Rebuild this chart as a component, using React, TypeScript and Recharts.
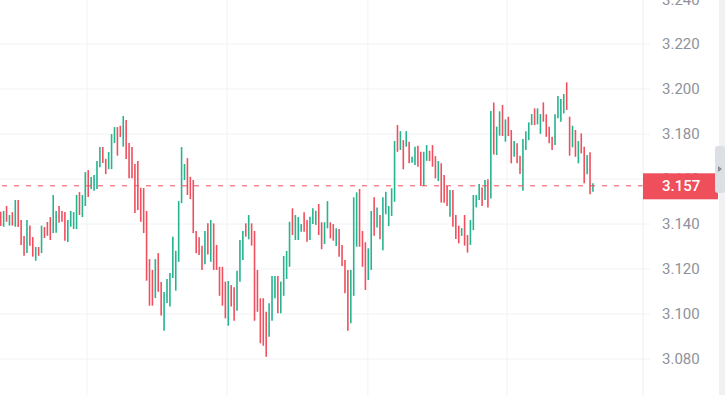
import React from 'react';
import { BarChart, Bar, XAxis, YAxis, CartesianGrid, ReferenceLine } from 'recharts';

// one bar per slot, oldest first (prices)
const highs = [
  3.1455, 3.1458, 3.1480, 3.1440, 3.1453, 3.1507, 3.1507, 3.1418, 3.1347, 3.1418,
  3.1393, 3.1342, 3.1298, 3.1298, 3.1393, 3.1387, 3.1409, 3.1431, 3.1529, 3.1458,
  3.1480, 3.1458, 3.1453, 3.1418, 3.1458, 3.1453, 3.1529, 3.1542, 3.1529, 3.1631,
  3.1640, 3.1609, 3.1618, 3.1680, 3.1742, 3.1742, 3.1690, 3.1720, 3.1800, 3.1831,
  3.1831, 3.1837, 3.1880, 3.1862, 3.1760, 3.1742, 3.1667, 3.1680, 3.1561, 3.1560,
  3.1458, 3.1244, 3.1196, 3.1244, 3.1271, 3.1142, 3.1098, 3.1156, 3.1182, 3.1344,
  3.1281, 3.1502, 3.1742, 3.1667, 3.1693, 3.1610, 3.1596, 3.1369, 3.1341, 3.1304,
  3.1369, 3.1403, 3.1418, 3.1403, 3.1307, 3.1210, 3.1210, 3.1144, 3.1147, 3.1129,
  3.1119, 3.1192, 3.1329, 3.1369, 3.1403, 3.1440, 3.1403, 3.1369, 3.1196, 3.1070,
  3.1070, 3.1010, 3.1048, 3.1169, 3.1169, 3.1169, 3.1144, 3.1258, 3.1280, 3.1410,
  3.1470, 3.1440, 3.1431, 3.1400, 3.1452, 3.1418, 3.1432, 3.1470, 3.1459, 3.1489,
  3.1408, 3.1408, 3.1502, 3.1408, 3.1400, 3.1381, 3.1378, 3.1307, 3.1240, 3.1196,
  3.1196, 3.1519, 3.1541, 3.1556, 3.1369, 3.1319, 3.1292, 3.1458, 3.1519, 3.1474,
  3.1440, 3.1519, 3.1544, 3.1480, 3.1559, 3.1769, 3.1840, 3.1813, 3.1773, 3.1813,
  3.1766, 3.1699, 3.1744, 3.1748, 3.1721, 3.1721, 3.1751, 3.1726, 3.1751, 3.1702,
  3.1680, 3.1670, 3.1618, 3.1569, 3.1551, 3.1551, 3.1440, 3.1393, 3.1382, 3.1440,
  3.1351, 3.1418, 3.1529, 3.1529, 3.1578, 3.1563, 3.1596, 3.1599, 3.1903, 3.1940,
  3.1833, 3.1901, 3.1929, 3.1865, 3.1877, 3.1818, 3.1769, 3.1759, 3.1704, 3.1778,
  3.1813, 3.1852, 3.1889, 3.1914, 3.1914, 3.1889, 3.1941, 3.1888, 3.1833, 3.1788,
  3.1888, 3.1969, 3.1956, 3.1978, 3.2030, 3.1877, 3.1837, 3.1818, 3.1769, 3.1803,
  3.1744, 3.1707, 3.1719, 3.1581,
];

const lows = [
  3.1391, 3.1388, 3.1410, 3.1393, 3.1393, 3.1388, 3.1387, 3.1307, 3.1259, 3.1271,
  3.1304, 3.1255, 3.1237, 3.1259, 3.1271, 3.1338, 3.1348, 3.1329, 3.1360, 3.1361,
  3.1406, 3.1410, 3.1326, 3.1320, 3.1388, 3.1378, 3.1378, 3.1440, 3.1431, 3.1480,
  3.1520, 3.1556, 3.1548, 3.1556, 3.1653, 3.1671, 3.1622, 3.1644, 3.1644, 3.1760,
  3.1704, 3.1787, 3.1744, 3.1689, 3.1604, 3.1604, 3.1449, 3.1462, 3.1410, 3.1360,
  3.1148, 3.1037, 3.1037, 3.1071, 3.1099, 3.0993, 3.0926, 3.1049, 3.1033, 3.1160,
  3.1104, 3.1232, 3.1493, 3.1596, 3.1529, 3.1511, 3.1360, 3.1270, 3.1262, 3.1196,
  3.1221, 3.1265, 3.1232, 3.1196, 3.1196, 3.1081, 3.1037, 3.0981, 3.0948, 3.1033,
  3.0970, 3.1015, 3.1144, 3.1240, 3.1344, 3.1332, 3.1304, 3.0970, 3.1010, 3.0870,
  3.0859, 3.0810, 3.0899, 3.0970, 3.1070, 3.1003, 3.1003, 3.1081, 3.1156, 3.1210,
  3.1351, 3.1329, 3.1329, 3.1366, 3.1366, 3.1321, 3.1329, 3.1400, 3.1396, 3.1351,
  3.1288, 3.1311, 3.1381, 3.1336, 3.1326, 3.1302, 3.1255, 3.1213, 3.1092, 3.0926,
  3.0959, 3.1081, 3.1299, 3.1299, 3.1210, 3.1107, 3.1151, 3.1196, 3.1348, 3.1385,
  3.1332, 3.1284, 3.1444, 3.1391, 3.1436, 3.1499, 3.1721, 3.1729, 3.1643, 3.1744,
  3.1670, 3.1673, 3.1662, 3.1655, 3.1569, 3.1569, 3.1681, 3.1680, 3.1655, 3.1603,
  3.1591, 3.1495, 3.1495, 3.1480, 3.1432, 3.1388, 3.1333, 3.1314, 3.1347, 3.1304,
  3.1273, 3.1307, 3.1373, 3.1474, 3.1507, 3.1480, 3.1507, 3.1474, 3.1514, 3.1709,
  3.1707, 3.1793, 3.1791, 3.1766, 3.1791, 3.1670, 3.1699, 3.1670, 3.1622, 3.1548,
  3.1729, 3.1773, 3.1840, 3.1840, 3.1843, 3.1801, 3.1855, 3.1788, 3.1759, 3.1729,
  3.1751, 3.1870, 3.1855, 3.1892, 3.1907, 3.1704, 3.1741, 3.1699, 3.1670, 3.1714,
  3.1581, 3.1621, 3.1532, 3.1544,
];

const opens = [
  3.144, 3.140, 3.147, 3.140, 3.144, 3.140, 3.149, 3.141, 3.133, 3.128,
  3.138, 3.133, 3.125, 3.129, 3.128, 3.138, 3.140, 3.142, 3.137, 3.138,
  3.147, 3.145, 3.144, 3.133, 3.140, 3.139, 3.139, 3.153, 3.144, 3.150,
  3.162, 3.156, 3.156, 3.157, 3.167, 3.173, 3.168, 3.165, 3.166, 3.177,
  3.182, 3.183, 3.176, 3.185, 3.174, 3.173, 3.164, 3.166, 3.155, 3.154,
  3.144, 3.123, 3.118, 3.108, 3.125, 3.113, 3.094, 3.106, 3.105, 3.118,
  3.112, 3.126, 3.151, 3.161, 3.168, 3.160, 3.158, 3.136, 3.133, 3.129,
  3.123, 3.139, 3.125, 3.139, 3.129, 3.120, 3.119, 3.113, 3.097, 3.112,
  3.110, 3.103, 3.116, 3.126, 3.139, 3.135, 3.139, 3.135, 3.118, 3.105,
  3.105, 3.099, 3.091, 3.099, 3.108, 3.115, 3.102, 3.110, 3.117, 3.123,
  3.146, 3.135, 3.135, 3.137, 3.144, 3.140, 3.134, 3.141, 3.141, 3.148,
  3.139, 3.132, 3.140, 3.140, 3.139, 3.131, 3.136, 3.129, 3.122, 3.117,
  3.098, 3.112, 3.132, 3.153, 3.135, 3.130, 3.117, 3.122, 3.150, 3.140,
  3.143, 3.131, 3.146, 3.140, 3.145, 3.152, 3.182, 3.174, 3.176, 3.175,
  3.176, 3.168, 3.167, 3.174, 3.171, 3.158, 3.169, 3.172, 3.174, 3.169,
  3.160, 3.166, 3.161, 3.156, 3.144, 3.154, 3.143, 3.138, 3.135, 3.143,
  3.134, 3.132, 3.139, 3.148, 3.151, 3.156, 3.151, 3.159, 3.153, 3.192,
  3.172, 3.181, 3.191, 3.178, 3.186, 3.180, 3.171, 3.175, 3.169, 3.157,
  3.174, 3.179, 3.184, 3.190, 3.185, 3.181, 3.193, 3.188, 3.182, 3.178,
  3.176, 3.188, 3.187, 3.190, 3.201, 3.187, 3.175, 3.181, 3.168, 3.179,
  3.173, 3.163, 3.170, 3.155,
];

const closes = [
  3.141, 3.144, 3.142, 3.143, 3.140, 3.149, 3.141, 3.133, 3.127, 3.140,
  3.132, 3.127, 3.129, 3.127, 3.138, 3.135, 3.136, 3.134, 3.150, 3.145,
  3.142, 3.142, 3.134, 3.140, 3.145, 3.144, 3.151, 3.145, 3.151, 3.161,
  3.154, 3.160, 3.161, 3.166, 3.173, 3.168, 3.163, 3.171, 3.178, 3.182,
  3.172, 3.180, 3.186, 3.171, 3.162, 3.162, 3.147, 3.148, 3.142, 3.138,
  3.117, 3.106, 3.105, 3.122, 3.112, 3.101, 3.108, 3.114, 3.116, 3.132,
  3.126, 3.148, 3.172, 3.165, 3.155, 3.153, 3.138, 3.128, 3.127, 3.121,
  3.135, 3.128, 3.140, 3.121, 3.121, 3.110, 3.105, 3.100, 3.112, 3.105,
  3.099, 3.117, 3.131, 3.135, 3.136, 3.142, 3.132, 3.100, 3.103, 3.089,
  3.088, 3.083, 3.103, 3.115, 3.115, 3.102, 3.113, 3.124, 3.126, 3.139,
  3.137, 3.142, 3.141, 3.139, 3.138, 3.134, 3.142, 3.146, 3.145, 3.137,
  3.131, 3.139, 3.149, 3.135, 3.134, 3.137, 3.128, 3.123, 3.111, 3.095,
  3.117, 3.149, 3.151, 3.132, 3.123, 3.113, 3.127, 3.143, 3.137, 3.146,
  3.135, 3.149, 3.153, 3.146, 3.154, 3.174, 3.174, 3.180, 3.166, 3.180,
  3.168, 3.169, 3.173, 3.167, 3.158, 3.170, 3.174, 3.169, 3.167, 3.162,
  3.166, 3.151, 3.151, 3.149, 3.154, 3.140, 3.135, 3.133, 3.137, 3.132,
  3.129, 3.140, 3.151, 3.152, 3.156, 3.150, 3.158, 3.149, 3.185, 3.173,
  3.181, 3.188, 3.181, 3.185, 3.181, 3.169, 3.176, 3.168, 3.164, 3.175,
  3.180, 3.184, 3.188, 3.185, 3.190, 3.187, 3.187, 3.180, 3.177, 3.174,
  3.187, 3.196, 3.194, 3.197, 3.192, 3.172, 3.182, 3.171, 3.176, 3.173,
  3.160, 3.169, 3.155, 3.157,
];

const priceTicks = [3.08, 3.1, 3.12, 3.14, 3.16, 3.18, 3.2, 3.22, 3.24];
const lastPrice = 3.157;
// vertical time grid lines, in bar-slot units
const timeGrid = [29.4, 77.4, 125.7, 173.4];
const slotDomain = [-0.4, 220];
const priceDomain = [3.064, 3.2396];

const UP = '#26b48e';
const DOWN = '#f04f5e';
const GRID = '#f1f2f5';
const LABEL_RED = '#ef4f5b';

const data = highs.map((h, i) => ({
  i,
  range: [lows[i], h],
  open: opens[i],
  close: closes[i],
}));

const OhlcShape = (props: any) => {
  const { x, y, width, height, payload } = props;
  if (x == null || y == null) return null;
  const top = Math.min(y, y + height);
  const bottom = Math.max(y, y + height);
  const cx = x + width / 2;
  const color = payload.close >= payload.open ? UP : DOWN;
  return <line x1={cx} x2={cx} y1={top} y2={bottom} stroke={color} strokeWidth={1.6} />;
};

const PriceTick = (props: any) => {
  const { x, y, payload } = props;
  if (payload.value === lastPrice) {
    return (
      <g>
        <rect x={x - 19} y={y - 12.5} width={75} height={26} fill={LABEL_RED} />
        <text x={x} y={y} dy="0.36em" textAnchor="start" fill="#fff" fontSize={15} fontWeight={500}>
          {lastPrice.toFixed(3)}
        </text>
      </g>
    );
  }
  return (
    <text x={x} y={y} dy="0.36em" textAnchor="start" fill="#8e929c" fontSize={15}>
      {Number(payload.value).toFixed(3)}
    </text>
  );
};

export default function App() {
  return (
    <div
      style={{
        position: 'absolute',
        left: 0,
        top: 0,
        width: 727,
        height: 395,
        background: '#fff',
        overflow: 'hidden',
        fontFamily: 'Roboto, "Noto Sans", sans-serif',
      }}
    >
      <BarChart width={727} height={395} data={data} margin={{ top: 0, right: 0, bottom: 0, left: 0 }}>
        <CartesianGrid stroke={GRID} horizontalValues={priceTicks} verticalValues={timeGrid} />
        <XAxis type="number" dataKey="i" domain={slotDomain} allowDataOverflow hide />
        <YAxis
          orientation="right"
          type="number"
          domain={priceDomain}
          allowDataOverflow
          ticks={[...priceTicks, lastPrice]}
          interval={0}
          width={84}
          tickSize={7}
          tickMargin={12}
          tickLine={{ stroke: GRID }}
          axisLine={{ stroke: '#eceef2' }}
          tick={<PriceTick />}
        />
        <Bar dataKey="range" barSize={2} shape={<OhlcShape />} isAnimationActive={false} />
        <ReferenceLine y={lastPrice} stroke={LABEL_RED} strokeDasharray="5 7" strokeWidth={1} />
      </BarChart>
      {/* scrollbar strip and collapse handle on the right edge */}
      <div style={{ position: 'absolute', left: 719, top: 0, width: 6, height: 395, background: '#f0f1f3' }} />
      <div
        style={{
          position: 'absolute',
          left: 715,
          top: 146,
          width: 10,
          height: 47,
          background: '#dcdfe4',
          borderRadius: 3,
        }}
      >
        <div
          style={{
            position: 'absolute',
            left: 3,
            top: 20,
            width: 0,
            height: 0,
            borderTop: '3.5px solid transparent',
            borderBottom: '3.5px solid transparent',
            borderLeft: '4.5px solid #8a8d95',
          }}
        />
      </div>
    </div>
  );
}
